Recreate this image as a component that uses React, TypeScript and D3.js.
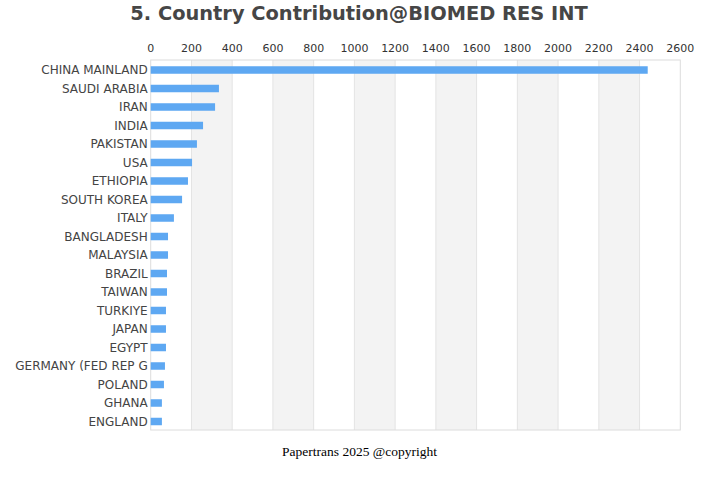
import React from "react";
import * as d3 from "d3";

const countries = [
  "CHINA MAINLAND", "SAUDI ARABIA", "IRAN", "INDIA", "PAKISTAN", "USA", "ETHIOPIA",
  "SOUTH KOREA", "ITALY", "BANGLADESH", "MALAYSIA", "BRAZIL", "TAIWAN", "TURKIYE",
  "JAPAN", "EGYPT", "GERMANY (FED REP G", "POLAND", "GHANA", "ENGLAND",
];
const counts = [2440, 335, 316, 257, 227, 203, 183, 154, 114, 85, 85, 80, 80, 75, 75, 75, 70, 65, 55, 55];
const xTicks = [0, 200, 400, 600, 800, 1000, 1200, 1400, 1600, 1800, 2000, 2200, 2400, 2600];
const title = "5. Country Contribution@BIOMED RES INT";
const footer = "Papertrans 2025 @copyright";

export default function App() {
  const W = 720, H = 480;
  const left = 150.7, right = 680.3, top = 60, bottom = 430;
  const x = d3.scaleLinear().domain([0, 2600]).range([left, right]);
  const y = d3.scaleBand<string>().domain(countries).range([top, bottom]).paddingInner(0).paddingOuter(0);
  const barH = 7.5;
  const bands = xTicks.slice(0, -1).map((t, i) => ({ x0: x(t), x1: x(xTicks[i + 1]), shaded: i % 2 === 1 }));
  return (
    <svg width={W} height={H} style={{ position: "absolute", left: 0, top: 0, background: "#fff" }}>
      <text x={359} y={20} textAnchor="middle" fontFamily="DejaVu Sans, sans-serif" fontWeight="bold" fontSize={19.4} fill="#464646">{title}</text>
      {bands.map((b, i) => b.shaded ? <rect key={i} x={b.x0} y={top} width={b.x1 - b.x0} height={bottom - top} fill="#f3f3f3" /> : null)}
      {xTicks.slice(1, -1).map((t) => (
        <line key={t} x1={x(t)} x2={x(t)} y1={top} y2={bottom} stroke="#e3e3e3" strokeWidth={1} />
      ))}
      <rect x={left} y={top} width={right - left} height={bottom - top} fill="none" stroke="#dcdcdc" strokeWidth={1} />
      {xTicks.map((t) => (
        <text key={t} x={x(t)} y={52} textAnchor="middle" fontFamily="DejaVu Sans, sans-serif" fontSize={11} fill="#333">{t}</text>
      ))}
      {countries.map((c, i) => (
        <g key={c}>
          <rect x={x(0)} y={(y(c) as number) + y.bandwidth() / 2 - barH / 2 + 0.75} width={x(counts[i]) - x(0)} height={barH} fill="#5ea8f2" />
          <text x={left - 3} y={(y(c) as number) + y.bandwidth() / 2 + 0.75} dy="0.35em" textAnchor="end" fontFamily="DejaVu Sans, sans-serif" fontSize={12} fill="#444">{c}</text>
        </g>
      ))}
      <text x={359.5} y={456} textAnchor="middle" fontFamily="Liberation Serif, Times New Roman, serif" fontSize={13.5} fill="#000">{footer}</text>
    </svg>
  );
}
